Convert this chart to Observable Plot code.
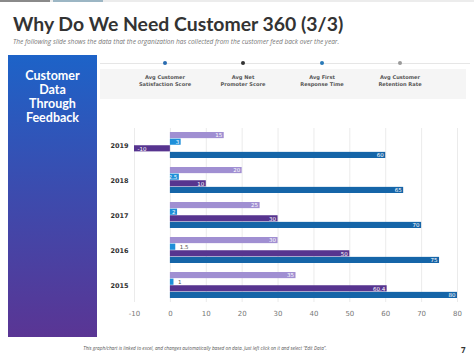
<!DOCTYPE html>
<html><head><meta charset="utf-8">
<script src="https://cdn.jsdelivr.net/npm/d3@7"></script>
<script src="https://cdn.jsdelivr.net/npm/@observablehq/plot@0.6"></script>
<style>
body{margin:0;background:#fff;font-family:"Open Sans",sans-serif;}
#page{position:relative;width:474px;height:355px;overflow:hidden;}
.abs{position:absolute;}
#title{left:13px;top:12px;font-family:Lato,sans-serif;font-weight:700;font-size:19.4px;color:#333;white-space:nowrap;}
#sub{left:13px;top:37px;font-size:6.55px;font-style:italic;color:#777;white-space:nowrap;}
#panel{left:8px;top:55px;width:89px;height:282px;background:linear-gradient(180deg,#1d63c8 0%,#3a4db0 45%,#5a3594 100%);}
#panel div{color:#fff;font-family:Lato,sans-serif;font-weight:700;font-size:12.5px;line-height:14px;height:14px;text-align:center;}
#hbox{left:100px;top:69px;width:366px;height:30px;background:#f5f5f5;}
#hline{left:100px;top:63px;width:370px;height:1px;background:#e6e6e6;}
.dot{width:4px;height:4px;border-radius:2px;top:61px;}
.hl{top:74px;width:80px;text-align:center;font-family:"DejaVu Sans",sans-serif;font-weight:700;font-size:5.1px;line-height:7px;color:#555;}
#foot{left:0;width:474px;top:345px;text-align:center;font-size:4.7px;font-style:italic;color:#555;padding-right:64px;box-sizing:border-box;}
#pnum{left:461px;top:344px;font-size:8px;color:#333;font-weight:700;}
#chart{left:100px;top:118px;}
</style></head>
<body><div id="page">
<div class="abs" style="left:0;top:0;width:474px;height:2px;background:#ececec"></div>
<div class="abs" style="left:0;top:0;width:50px;height:2px;background:#8a8a8a"></div>
<div class="abs" style="left:53px;top:0;width:50px;height:2px;background:#9cb6c4"></div>
<div id="title" class="abs">Why Do We Need Customer 360 (3/3)</div>
<div id="sub" class="abs">The following slide shows the data that the organization has collected from the customer feed back over the year.</div>
<div id="panel" class="abs"><div style="margin-top:14px">Customer</div><div>Data</div><div>Through</div><div>Feedback</div></div>
<div id="hline" class="abs"></div>
<div id="hbox" class="abs"></div>
<div id="chart" class="abs"></div>
<div id="foot" class="abs">This graph/chart is linked to excel, and changes automatically based on data. Just left click on it and select “Edit Data”.</div>
<div id="pnum" class="abs">7</div>
</div>
<script>
const years = ["2019","2018","2017","2016","2015"];
const seriesNames = ["Avg Customer Satisfaction Score","Avg Net Promoter Score","Avg First Response Time","Avg Customer Retention Rate"];
const headerLabels = [["Avg Customer","Satisfaction Score"],["Avg Net","Promoter Score"],["Avg First","Response Time"],["Avg Customer","Retention Rate"]];
const satisfaction = [15,20,25,30,35];
const promoter = [3,2.5,2,1.5,1];
const responseTime = [-10,10,30,50,60.4];
const retention = [60,65,70,75,80];
const xTicks = [-10,0,10,20,30,40,50,60,70,80];
const barColors = ["#a08fd2","#1e8fd9","#57348f","#1565a8"];
const dotColors = ["#2a6cb0","#333333","#2a7ab8","#9a9a9a"];
const headerX = [165,243,322,400];

const page = document.getElementById("page");
headerLabels.forEach((lines,i)=>{
  const d=document.createElement("div");d.className="abs dot";d.style.left=(headerX[i]-2)+"px";d.style.background=dotColors[i];page.appendChild(d);
  const t=document.createElement("div");t.className="abs hl";t.style.left=(headerX[i]-40)+"px";t.innerHTML=lines.join("<br>");page.appendChild(t);
});

const valuesBySeries=[satisfaction,promoter,responseTime,retention];
const rows=[];
valuesBySeries.forEach((vals,si)=>vals.forEach((v,yi)=>rows.push({year:years[yi],series:seriesNames[si],si,value:v})));

const W=370,H=210,mT=10,mB=26,mL=34,mR=13;
const pin=0.26,pout=0.06;
const step=(H-mT-mB)/(years.length-pin+2*pout);
const bw=step*(1-pin);
const bh=bw/4;

const marks=[
  Plot.ruleX(xTicks,{stroke:"#ebebeb",strokeWidth:1})
];
seriesNames.forEach((s,si)=>{
  const d=rows.filter(r=>r.si===si);
  marks.push(Plot.barX(d,{x:"value",y:"year",fill:barColors[si],insetTop:si*bh,insetBottom:(3-si)*bh}));
  marks.push(Plot.text(d.filter(r=>r.value>=2),{x:"value",y:"year",text:d=>String(d.value),dy:(si-1.5)*bh,dx:-2,textAnchor:"end",fill:"#fff",fontSize:5.5}));
  marks.push(Plot.text(d.filter(r=>r.value<0),{x:"value",y:"year",text:d=>String(d.value),dy:(si-1.5)*bh,dx:3,textAnchor:"start",fill:"#fff",fontSize:5.5}));
  marks.push(Plot.text(d.filter(r=>r.value>0&&r.value<2),{x:"value",y:"year",text:d=>String(d.value),dy:(si-1.5)*bh,dx:4,textAnchor:"start",fill:"#555",fontSize:5.5}));
});
marks.push(Plot.axisX({ticks:xTicks,tickSize:0,tickPadding:9,fontSize:7,color:"#777",label:null,tickFormat:d=>String(d)}));
marks.push(Plot.axisY({tickSize:0,tickPadding:6,fontSize:6.5,fontWeight:"bold",color:"#333",label:null}));

const chart=Plot.plot({
  width:W,height:H,marginTop:mT,marginBottom:mB,marginLeft:mL,marginRight:mR,
  style:{fontFamily:"'DejaVu Sans',sans-serif",background:"transparent"},
  x:{domain:[-10,80]},
  y:{domain:years,paddingInner:pin,paddingOuter:pout},
  marks
});
document.getElementById("chart").appendChild(chart);
</script>
</body></html>
